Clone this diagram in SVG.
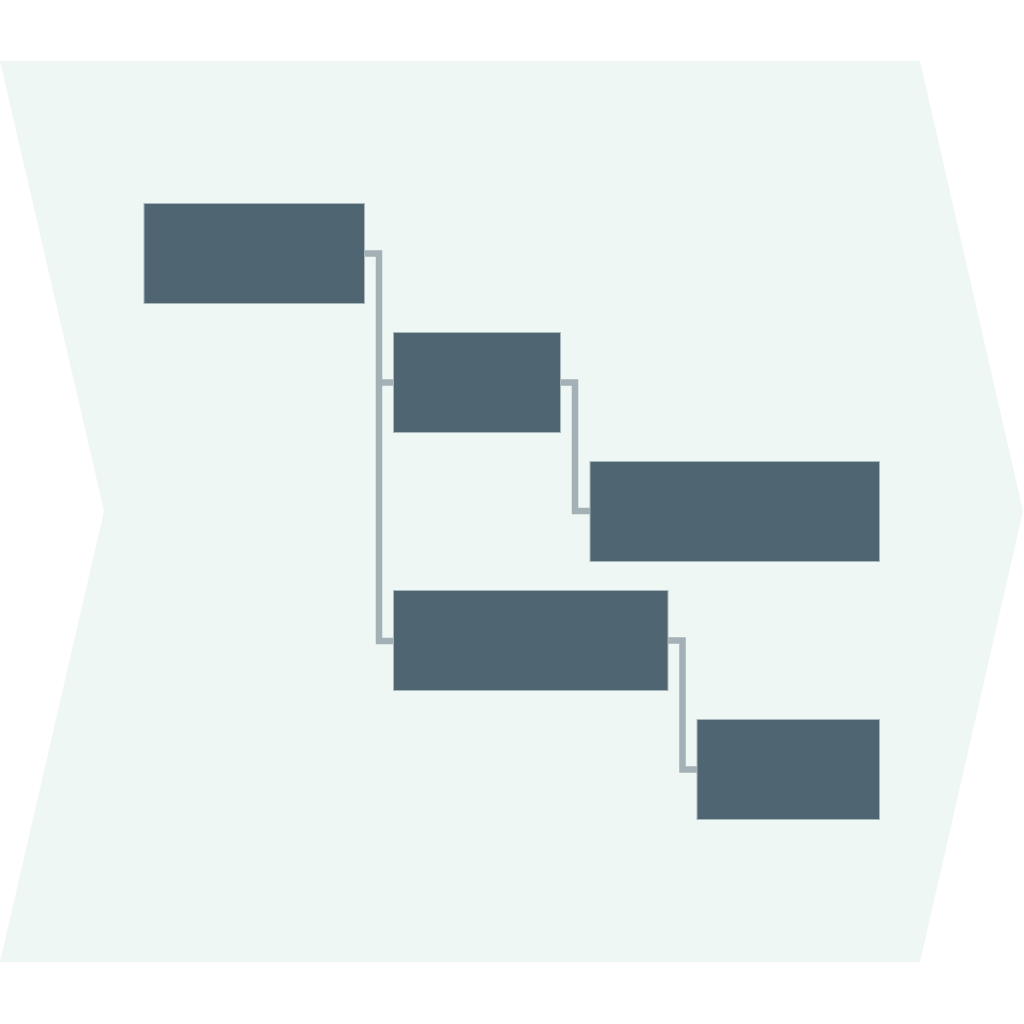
<svg xmlns="http://www.w3.org/2000/svg" width="1024" height="1024" viewBox="0 0 1024 1024">
<style>
.node{fill:#4f6672;stroke:#a9b8bd;stroke-width:1}
.conn{fill:none;stroke:#a3b1b6;stroke-width:6.5;stroke-linejoin:miter}
</style>
<rect width="1024" height="1024" fill="#ffffff"/>
<polygon id="chevron" points="0,61 920,61 1023,511 920,962 0,962 104,511" fill="#eef7f3"/>
<g id="connectors">
<polyline class="conn" points="364,253.5 379,253.5 379,641 393,641"/>
<polyline class="conn" points="379,382.5 393,382.5"/>
<polyline class="conn" points="560,382.5 575,382.5 575,511 590,511"/>
<polyline class="conn" points="668,640.5 682.5,640.5 682.5,769.5 697,769.5"/>
</g>
<g id="node1"><rect class="node" x="144" y="203.5" width="220.5" height="100"/></g>
<g id="node2"><rect class="node" x="393.5" y="332.5" width="167" height="100"/></g>
<g id="node3"><rect class="node" x="590" y="461.5" width="289.5" height="100"/></g>
<g id="node4"><rect class="node" x="393.5" y="590.5" width="274.5" height="100"/></g>
<g id="node5"><rect class="node" x="697" y="719.5" width="182.5" height="100"/></g>
</svg>
